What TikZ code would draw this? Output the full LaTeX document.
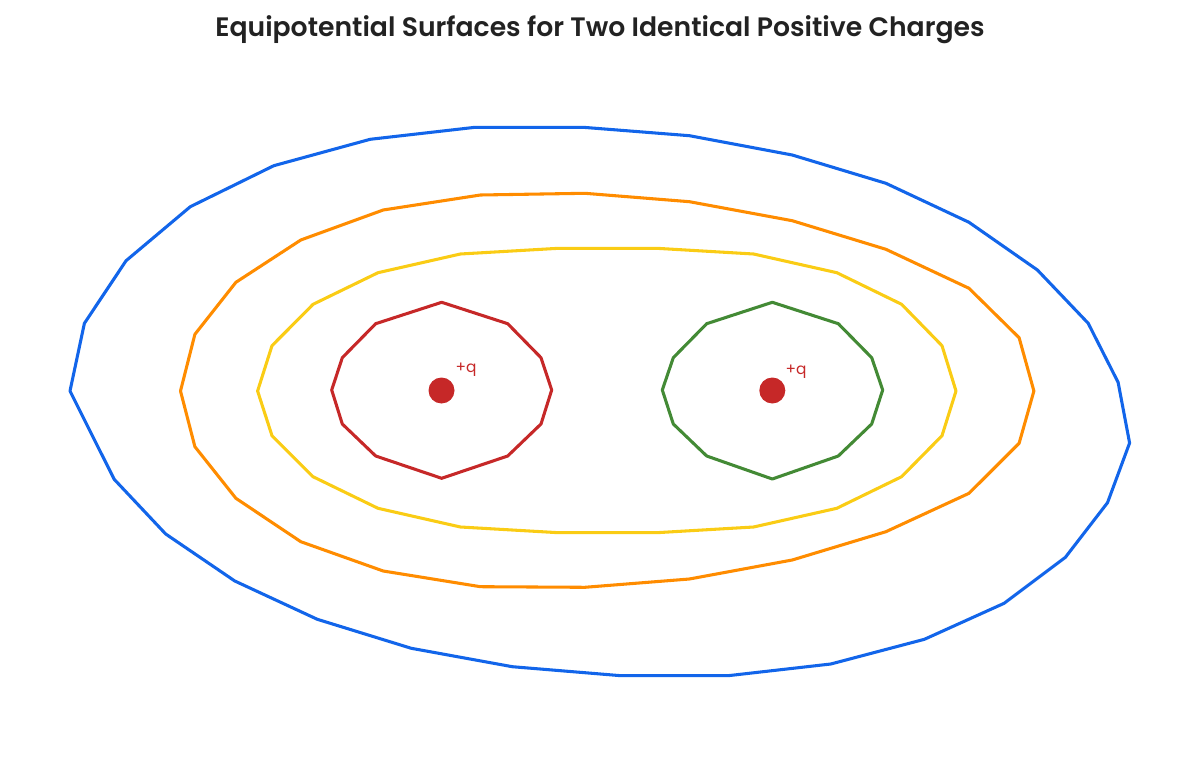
\documentclass[tikz,border=0pt]{standalone}
\usepackage{fontspec}
\setmainfont{Poppins}
\newfontfamily\titlefont{Poppins SemiBold}
\definecolor{cblue}{RGB}{18,101,234}
\definecolor{corange}{RGB}{255,140,0}
\definecolor{cyellow}{RGB}{250,204,21}
\definecolor{cred}{RGB}{198,40,40}
\definecolor{cgreen}{RGB}{67,138,53}
\definecolor{ctitle}{RGB}{34,34,34}
\tikzset{
  contour/.style={line width=2.3pt, line join=round},
  charge/.style={circle, fill=cred, minimum size=19.5pt, inner sep=0pt},
  qlabel/.style={text=cred, font=\fontsize{11.5}{12}\selectfont, inner sep=0pt},
}
\begin{document}
\begin{tikzpicture}[x=0.75pt,y=-0.75pt]
\useasboundingbox (0,0) rectangle (1200,763);
\node[text=ctitle, font=\titlefont\fontsize{20}{22}\selectfont] (title) at (600,30) {Equipotential Surfaces for Two Identical Positive Charges};
% blue
\draw[contour, cblue] (70,391) -- (84.4,323.3) -- (126.1,260.7) -- (190.3,206.7) -- (273.8,165.7) -- (370.2,139.3) -- (475.1,127.3) -- (583.1,127.3) -- (689.4,135.7) -- (792.2,155) -- (885.9,183.3) -- (969,222.3) -- (1037.4,270) -- (1088.2,323.3) -- (1118.1,382.3) -- (1129.6,443) -- (1107.5,502.7) -- (1065.4,557.3) -- (1004.1,603.3) -- (924.4,639.3) -- (830.8,664) -- (728,675.7) -- (621,675.7) -- (512.3,666.7) -- (411.3,648.3) -- (317.3,619.3) -- (234.8,581) -- (165.7,534) -- (114.2,479.3) -- cycle;
% orange
\draw[contour, corange] (180.5,391) -- (194.9,334.3) -- (235.9,282.3) -- (300.8,240) -- (383.2,210) -- (480.4,195) -- (584.9,193.3) -- (689.4,201.7) -- (792.2,220.7) -- (885.9,249.3) -- (969,288.3) -- (1019.1,337.7) -- (1033.9,391) -- (1019.1,443.3) -- (969,493.3) -- (885.9,531.7) -- (792.2,560) -- (689.4,579) -- (584.9,587.3) -- (480.4,586.7) -- (383.2,571) -- (300.8,541.7) -- (235.9,498.3) -- (194.9,446.7) -- cycle;
% yellow
\draw[contour, cyellow] (257.6,391) -- (272,345.7) -- (313.1,304.3) -- (378,272.7) -- (460.4,254) -- (558.6,248.3) -- (656.5,248.3) -- (753.6,254) -- (836.8,272.7) -- (901.6,304.3) -- (942,345.7) -- (956,391) -- (942,435.7) -- (901.6,476.7) -- (836.8,508.3) -- (753.6,527) -- (656.5,532.7) -- (558.6,532.7) -- (460.4,527) -- (378,508.3) -- (313,476.7) -- (272,435.7) -- cycle;
% red
\draw[contour, cred] (441.7,302.3) -- (507.7,323.7) -- (541,357.7) -- (551.7,390) -- (541,424) -- (507.7,456) -- (441.7,478.3) -- (375.7,456) -- (342.3,424) -- (331.7,390) -- (342.3,357.7) -- (375.7,323.7) -- cycle;
% green
\draw[contour, cgreen] (772.3,302.3) -- (838.3,323.7) -- (871.7,357.7) -- (882.7,390) -- (871.7,424) -- (838.3,456) -- (772.3,479) -- (706.7,456) -- (673.3,424) -- (662.3,390) -- (673.3,357.7) -- (706.7,323.7) -- cycle;
% charges
\node[charge] (q1) at (441.5,390.5) {};
\node[charge] (q2) at (772.3,390.5) {};
\node[qlabel] (l1) at (466,369.5) {+q};
\node[qlabel] (l2) at (796,372) {+q};
\end{tikzpicture}
\end{document}
